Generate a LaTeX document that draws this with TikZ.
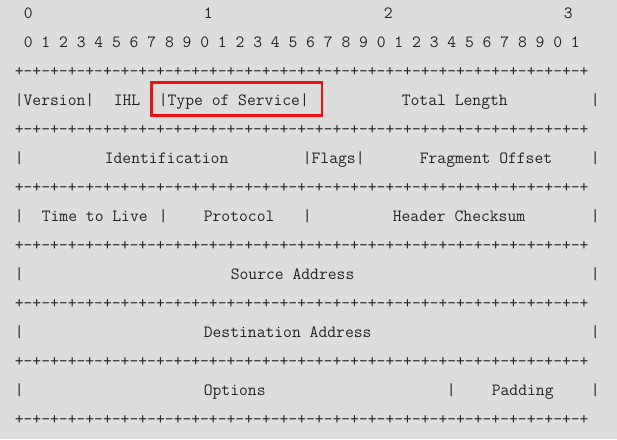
\documentclass[tikz,border=0pt]{standalone}
\definecolor{bg}{RGB}{221,221,221}
\definecolor{ink}{RGB}{35,35,35}
\definecolor{hl}{RGB}{240,16,16}
\begin{document}
\begin{tikzpicture}[x=1pt,y=-1pt,
  txt/.style={anchor=base west,inner sep=0pt,outer sep=0pt,text=ink,
    font=\fontsize{17.14pt}{29pt}\selectfont\ttfamily},
  hlbox/.style={draw=hl,line width=2.5pt}]
\fill[bg] (0,0) rectangle (617,439);
\useasboundingbox (0,0) rectangle (617,439);
% header rows
\node[txt] (h0) at ({14.8+9*1},18.5) {0};
\node[txt] (h1) at ({14.8+9*21},18.5) {1};
\node[txt] (h2) at ({14.8+9*41},18.5) {2};
\node[txt] (h3) at ({14.8+9*61},18.5) {3};
\node[txt] (bits) at ({14.8+9*1},47.5) {0 1 2 3 4 5 6 7 8 9 0 1 2 3 4 5 6 7 8 9 0 1 2 3 4 5 6 7 8 9 0 1};
% separators
\foreach \r/\nm in {2/s1,4/s2,6/s3,8/s4,10/s5,12/s6,14/s7}
  \node[txt] (\nm) at (14.8,{18.5+29*\r}) {+-+-+-+-+-+-+-+-+-+-+-+-+-+-+-+-+-+-+-+-+-+-+-+-+-+-+-+-+-+-+-+-+};
% row 1
\node[txt] (ver) at ({14.8+9*0},105.5) {|Version|};
\node[txt] (ihl) at ({14.8+9*11},105.5) {IHL};
\node[txt] (tos) at ({14.8+9*16},105.5) {|Type of Service|};
\node[txt] (tl) at ({14.8+9*43},105.5) {Total Length};
\node[txt] (b1) at ({14.8+9*64},105.5) {|};
% row 2
\node[txt] (b2a) at ({14.8+9*0},163.5) {|};
\node[txt] (idf) at ({14.8+9*10},163.5) {Identification};
\node[txt] (flg) at ({14.8+9*32},163.5) {|Flags|};
\node[txt] (fo) at ({14.8+9*45},163.5) {Fragment Offset};
\node[txt] (b2b) at ({14.8+9*64},163.5) {|};
% row 3
\node[txt] (b3a) at ({14.8+9*0},221.5) {|};
\node[txt] (ttl) at ({14.8+9*3},221.5) {Time to Live};
\node[txt] (b3b) at ({14.8+9*16},221.5) {|};
\node[txt] (pro) at ({14.8+9*21},221.5) {Protocol};
\node[txt] (b3c) at ({14.8+9*32},221.5) {|};
\node[txt] (hc) at ({14.8+9*42},221.5) {Header Checksum};
\node[txt] (b3d) at ({14.8+9*64},221.5) {|};
% row 4
\node[txt] (b4a) at ({14.8+9*0},279.5) {|};
\node[txt] (src) at ({14.8+9*24},279.5) {Source Address};
\node[txt] (b4b) at ({14.8+9*64},279.5) {|};
% row 5
\node[txt] (b5a) at ({14.8+9*0},337.5) {|};
\node[txt] (dst) at ({14.8+9*21},337.5) {Destination Address};
\node[txt] (b5b) at ({14.8+9*64},337.5) {|};
% row 6
\node[txt] (b6a) at ({14.8+9*0},395.5) {|};
\node[txt] (opt) at ({14.8+9*21},395.5) {Options};
\node[txt] (b6b) at ({14.8+9*48},395.5) {|};
\node[txt] (pad) at ({14.8+9*53},395.5) {Padding};
\node[txt] (b6c) at ({14.8+9*64},395.5) {|};
% highlight
\draw[hlbox] (151.3,82.5) rectangle (322,115.5);
\end{tikzpicture}
\end{document}
